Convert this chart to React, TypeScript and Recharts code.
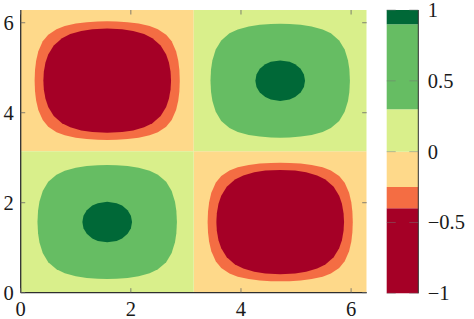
import { ComposedChart, Area, XAxis, YAxis } from "recharts";

// plot range is [0, 2pi] on both axes
const DOMAIN_MAX = 6.2832;
const HALF = 1.5708;
const AXIS_TICKS = [0, 2, 4, 6];

// quadrant origins (x0, y0), each quadrant is pi wide
const QUAD_SIZE = 3.1416;
const NEG_QUADS = [[0, 3.1416], [3.1416, 0]];
const POS_QUADS = [[0, 0], [3.1416, 3.1416]];

// contour outlines, local x inside a quadrant
// and the half height of the region around the quadrant centre
const ORANGE_X = [0.2527, 0.26, 0.28, 0.32, 0.4, 0.5, 0.65, 0.8, 1.0, 1.2, 1.4, 1.5708, 1.7416, 1.9416, 2.1416, 2.3416, 2.4916, 2.6416, 2.7416, 2.8216, 2.8616, 2.8816, 2.8889];
const ORANGE_H = [0, 0.235, 0.441, 0.652, 0.874, 1.022, 1.145, 1.215, 1.269, 1.299, 1.314, 1.318, 1.314, 1.299, 1.269, 1.215, 1.145, 1.022, 0.874, 0.652, 0.441, 0.235, 0];

const RED_X = [0.4115, 0.42, 0.45, 0.5, 0.6, 0.75, 0.9, 1.1, 1.3, 1.5708, 1.8416, 2.0416, 2.2416, 2.3916, 2.5416, 2.6416, 2.6916, 2.7216, 2.7301];
const RED_H = [0, 0.196, 0.404, 0.584, 0.784, 0.944, 1.035, 1.106, 1.143, 1.159, 1.143, 1.106, 1.035, 0.944, 0.784, 0.584, 0.404, 0.196, 0];

const GREEN_X = [0.3047, 0.315, 0.34, 0.4, 0.5, 0.65, 0.8, 1.0, 1.2, 1.4, 1.5708, 1.7416, 1.9416, 2.1416, 2.3416, 2.4916, 2.6416, 2.7416, 2.8016, 2.8266, 2.8369];
const GREEN_H = [0, 0.252, 0.452, 0.691, 0.895, 1.052, 1.139, 1.206, 1.243, 1.262, 1.266, 1.262, 1.243, 1.206, 1.139, 1.052, 0.895, 0.691, 0.452, 0.252, 0];

const DKGREEN_X = [1.1198, 1.14, 1.2, 1.3, 1.4, 1.5708, 1.7416, 1.8416, 1.9416, 2.0016, 2.0218];
const DKGREEN_H = [0, 0.138, 0.263, 0.365, 0.42, 0.451, 0.42, 0.365, 0.263, 0.138, 0];

// colorbar
const CB_LEVELS = [-1, -0.4, -0.25, 0, 0.3, 0.9, 1];
const CB_COLORS = ["#a50026", "#f46d43", "#fed98a", "#d9ef8b", "#66bd63", "#006837"];
const CB_TICKS = [-1, -0.5, 0, 0.5, 1];

const FONT = "'Liberation Serif', serif";
const FRAME = "#2e2e2e";
const TICK = "#666";
const PLOT_W = 346;
const PLOT_H = 282.7;
const CB_W = 31.6;

const textStyle = { fontFamily: FONT, fontSize: 20.5, fill: "#1a1a1a" };

function quad(ox: number, oy: number) {
  return [
    { x: ox, r: [oy, oy + QUAD_SIZE] },
    { x: ox + QUAD_SIZE, r: [oy, oy + QUAD_SIZE] },
  ];
}

function region(xs: number[], hs: number[], ox: number, oy: number) {
  return xs.map((x, i) => ({ x: ox + x, r: [oy + HALF - hs[i], oy + HALF + hs[i]] }));
}

function fmt(v: number) {
  return v < 0 ? `\u2212${Math.abs(v)}` : `${v}`;
}

// bottom ticks also draw the mirrored ticks on the top edge
const BottomTick = (p: any) => (
  <g>
    <line x1={p.x} x2={p.x} y1={p.y} y2={p.y - 4.5} stroke={TICK} strokeWidth={0.8} />
    <line x1={p.x} x2={p.x} y1={p.y - PLOT_H} y2={p.y - PLOT_H + 4.5} stroke={TICK} strokeWidth={0.8} />
    <text x={p.x} y={p.y + 23} textAnchor="middle" style={textStyle}>
      {p.payload.value}
    </text>
  </g>
);
const LeftTick = (p: any) => (
  <g>
    <line x1={p.x} x2={p.x + 4.5} y1={p.y} y2={p.y} stroke={TICK} strokeWidth={0.8} />
    <line x1={p.x + PLOT_W} x2={p.x + PLOT_W - 4.5} y1={p.y} y2={p.y} stroke={TICK} strokeWidth={0.8} />
    <text x={p.x - 7} y={p.y + 7} textAnchor="end" style={textStyle}>
      {p.payload.value}
    </text>
  </g>
);

const CbTick = (p: any) => (
  <g>
    <line x1={p.x} x2={p.x - 9} y1={p.y} y2={p.y} stroke="#777" strokeOpacity={0.6} strokeWidth={0.8} />
    <line x1={p.x - CB_W} x2={p.x - CB_W + 9} y1={p.y} y2={p.y} stroke="#777" strokeOpacity={0.6} strokeWidth={0.8} />
    <text x={p.x + 9.5} y={p.y + 7} textAnchor="start" style={textStyle}>
      {fmt(p.payload.value)}
    </text>
  </g>
);

function fillArea(key: string, data: any[], color: string) {
  return (
    <Area
      key={key}
      data={data}
      dataKey="r"
      type="linear"
      stroke="none"
      fill={color}
      fillOpacity={1}
      dot={false}
      activeDot={false}
      isAnimationActive={false}
    />
  );
}

export default function App() {
  const layers: any[] = [];
  NEG_QUADS.forEach(([ox, oy], i) => {
    layers.push(fillArea(`nq${i}`, quad(ox, oy), CB_COLORS[2]));
  });
  POS_QUADS.forEach(([ox, oy], i) => {
    layers.push(fillArea(`pq${i}`, quad(ox, oy), CB_COLORS[3]));
  });
  NEG_QUADS.forEach(([ox, oy], i) => {
    layers.push(fillArea(`or${i}`, region(ORANGE_X, ORANGE_H, ox, oy), CB_COLORS[1]));
    layers.push(fillArea(`rd${i}`, region(RED_X, RED_H, ox, oy), CB_COLORS[0]));
  });
  POS_QUADS.forEach(([ox, oy], i) => {
    layers.push(fillArea(`gr${i}`, region(GREEN_X, GREEN_H, ox, oy), CB_COLORS[4]));
    layers.push(fillArea(`dg${i}`, region(DKGREEN_X, DKGREEN_H, ox, oy), CB_COLORS[5]));
  });

  const bands = CB_COLORS.map((c, i) => {
    const r = [CB_LEVELS[i], CB_LEVELS[i + 1]];
    return fillArea(`cb${i}`, [{ x: 0, r }, { x: 1, r }], c);
  });

  return (
    <div style={{ position: "absolute", left: 0, top: 0, width: 474, height: 319, background: "#fff" }}>
      <div style={{ position: "absolute", left: 0, top: 0 }}>
        <ComposedChart width={474} height={319} margin={{ top: 10, right: 107.3, bottom: 0, left: 0 }}>
          <XAxis
            type="number"
            dataKey="x"
            domain={[0, DOMAIN_MAX]}
            allowDataOverflow
            ticks={AXIS_TICKS}
            height={26.3}
            tickSize={0}
            tickMargin={0}
            tickLine={false}
            tick={<BottomTick />}
            axisLine={{ stroke: FRAME, strokeWidth: 1.3 }}
          />
          <XAxis xAxisId="top" orientation="top" type="number" domain={[0, DOMAIN_MAX]} height={0}
            tick={false} tickLine={false} axisLine={{ stroke: FRAME, strokeWidth: 1.3 }} />
          <YAxis
            type="number"
            domain={[0, DOMAIN_MAX]}
            allowDataOverflow
            ticks={AXIS_TICKS}
            width={20.7}
            tickSize={0}
            tickMargin={0}
            tickLine={false}
            tick={<LeftTick />}
            axisLine={{ stroke: FRAME, strokeWidth: 1.3 }}
          />
          <YAxis yAxisId="right" orientation="right" type="number" domain={[0, DOMAIN_MAX]} width={0}
            tick={false} tickLine={false} axisLine={{ stroke: FRAME, strokeWidth: 1.3 }} />
          {layers}
        </ComposedChart>
      </div>
      <div style={{ position: "absolute", left: 0, top: 0 }}>
        <ComposedChart width={474} height={319} margin={{ top: 10, right: 0, bottom: 25.7, left: 386.7 }}>
          <XAxis type="number" dataKey="x" domain={[0, 1]} height={0} tick={false} tickLine={false}
            axisLine={{ stroke: FRAME, strokeWidth: 1 }} />
          <XAxis xAxisId="top" orientation="top" type="number" domain={[0, 1]} height={0}
            tick={false} tickLine={false} axisLine={{ stroke: FRAME, strokeWidth: 1 }} />
          <YAxis yAxisId="left" type="number" domain={[-1, 1]} width={0}
            tick={false} tickLine={false} axisLine={{ stroke: FRAME, strokeWidth: 1 }} />
          <YAxis
            orientation="right"
            type="number"
            domain={[-1, 1]}
            ticks={CB_TICKS}
            width={55.7}
            tickSize={0}
            tickMargin={0}
            tickLine={false}
            tick={<CbTick />}
            axisLine={{ stroke: FRAME, strokeWidth: 1 }}
          />
          {bands}
        </ComposedChart>
      </div>
    </div>
  );
}
